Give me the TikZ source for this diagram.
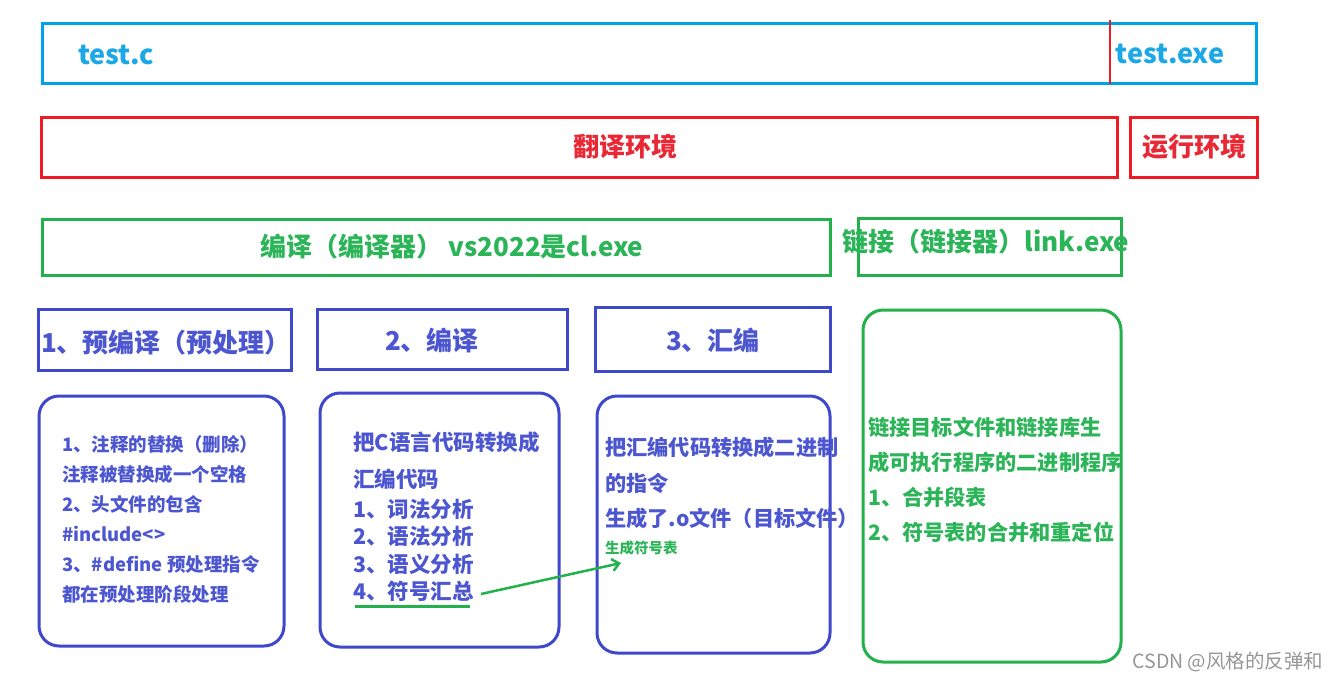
\documentclass[tikz,border=0pt]{standalone}
\usepackage{fontspec}
\setmainfont{Noto Sans CJK SC}
\usetikzlibrary{arrows.meta}

\begin{document}
\begin{tikzpicture}[x=1pt,y=-1pt]
    % 定义颜色
    \definecolor{frameblue}{RGB}{63,72,204}
    \definecolor{textblue}{RGB}{76,86,208}
    \definecolor{framered}{RGB}{237,28,36}
    \definecolor{textred}{RGB}{232,40,52}
    \definecolor{framegreen}{RGB}{34,177,76}
    \definecolor{textgreen}{RGB}{44,180,88}
    \definecolor{framecyan}{RGB}{0,162,232}
    \definecolor{textcyan}{RGB}{28,168,230}
    \definecolor{markgray}{RGB}{150,150,150}

    % --- 设置全局样式 ---
    \tikzset{
        FrameStyle/.style = {line width=3pt},          % 方框边线
        CardStyle/.style  = {line width=3pt, rounded corners=20pt}, % 圆角框
        TitleStyle/.style = {inner sep=0pt, font=\bfseries\fontsize{26}{30}\selectfont},
        NoteStyle/.style  = {inner sep=0pt, anchor=north west, align=left},
        LinkStyle/.style  = {draw=framegreen, line width=2.5pt}
    }

    % 画布大小
    \useasboundingbox (0,0) rectangle (1338,682);

    % --- 第一行：源文件与可执行文件 ---
    \draw[FrameStyle, framecyan] (42,24) rectangle (1256,84);
    \draw[line width=2.5pt, framered] (1110,20) -- (1110,84);
    \node[TitleStyle, textcyan, font=\bfseries\fontsize{27}{30}\selectfont] (src) at (116,55) {test.c};
    \node[TitleStyle, textcyan, font=\bfseries\fontsize{27}{30}\selectfont] (exe) at (1170,54) {test.exe};

    % --- 第二行：两种环境 ---
    \draw[FrameStyle, framered] (41,118) rectangle (1117,177);
    \draw[FrameStyle, framered] (1130,118) rectangle (1257,177);
    \node[TitleStyle, textred] (trans) at (625,147) {翻译环境};
    \node[TitleStyle, textred] (run) at (1194,147) {运行环境};

    % --- 第三行：编译与链接 ---
    \draw[FrameStyle, framegreen] (42,219) rectangle (830,275);
    \draw[FrameStyle, framegreen] (858,218) rectangle (1121,275);
    \node[TitleStyle, textgreen] (compile) at (452,247) {编译（编译器） vs2022是cl.exe};
    \node[TitleStyle, textgreen] (link) at (986,242) {链接（链接器）link.exe};

    % --- 第四行：三个阶段 ---
    \draw[FrameStyle, frameblue] (38,309) rectangle (291,370);
    \draw[FrameStyle, frameblue] (317,309) rectangle (567,369);
    \draw[FrameStyle, frameblue] (595,307) rectangle (830,371);
    \node[TitleStyle, textblue] (pre) at (166,343) {1、预编译（预处理）};
    \node[TitleStyle, textblue] (comp) at (432,341) {2、编译};
    \node[TitleStyle, textblue] (asm) at (713,340) {3、汇编};

    % --- 第五行：各阶段说明 ---
    \draw[CardStyle, frameblue] (39,396) rectangle (284,646);
    \draw[CardStyle, frameblue] (320,393) rectangle (559,647);
    \draw[CardStyle, frameblue] (597,396) rectangle (830,653);
    \draw[CardStyle, framegreen] (863,310) rectangle (1121,662);

    % 预编译说明
    \node[NoteStyle, textblue, font=\bfseries\fontsize{18.5}{30}\selectfont] (preNote) at (62,435) {%
        1、注释的替换（删除）\\
        注释被替换成一个空格\\
        2、头文件的包含\\
        \#include<>\\
        3、\#define 预处理指令\\
        都在预处理阶段处理};

    % 编译说明
    \node[NoteStyle, textblue, font=\bfseries\fontsize{21.5}{27.3}\selectfont] (compNote) at (353,432) {%
        把C语言代码转换成\\[9pt]
        汇编代码\\[3pt]
        1、词法分析\\
        2、语法分析\\
        3、语义分析\\
        4、符号汇总};

    % 汇编说明
    \node[NoteStyle, textblue, font=\bfseries\fontsize{21.2}{35.5}\selectfont] (asmNote) at (605,437) {%
        把汇编代码转换成二进制\\
        的指令\\
        生成了.o文件（目标文件）};
    \node[inner sep=0pt, anchor=west, textgreen, font=\bfseries\fontsize{14.5}{16}\selectfont] (symtab) at (605,548) {生成符号表};

    % 链接说明
    \node[NoteStyle, textgreen, font=\bfseries\fontsize{21.2}{35}\selectfont] (linkNote) at (868,417) {%
        链接目标文件和链接库生\\
        成可执行程序的二进制程序\\
        1、合并段表\\
        2、符号表的合并和重定位};

    % --- 符号汇总 -> 生成符号表 ---
    \coordinate (sumLeft) at (355,606);
    \coordinate (sumRight) at (470,606);
    \coordinate (sumEnd) at (481,594);
    \coordinate (symTip) at (621,563);
    \draw[LinkStyle, line width=3pt] (sumLeft) -- (sumRight);
    \draw[LinkStyle, -{Straight Barb[length=7pt, width=12pt]}] (sumEnd) -- (symTip);

    % 水印
    \node[inner sep=0pt, markgray, font=\fontsize{19.5}{22}\selectfont] (mark) at (1228,662) {CSDN @风格的反弹和};

\end{tikzpicture}
\end{document}
